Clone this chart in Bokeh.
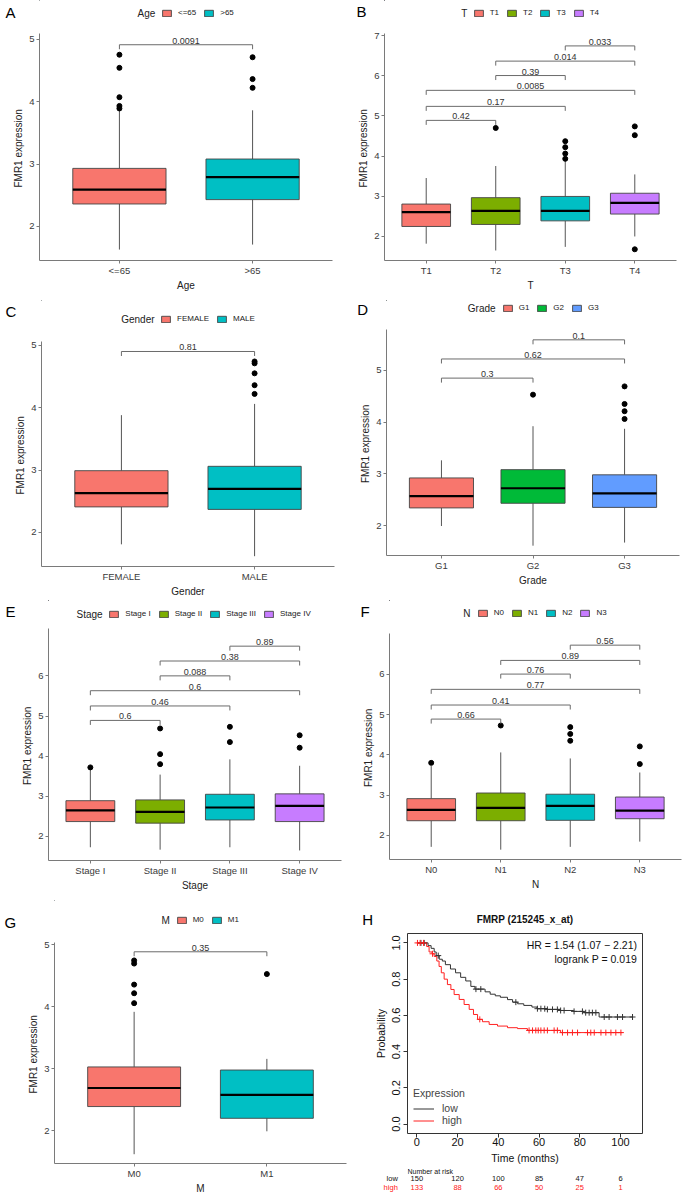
import numpy as np
from bokeh.plotting import figure
from bokeh.models import (Range1d, FixedTicker, Label, Legend, LegendItem,
                          ColumnDataSource, NumeralTickFormatter)
from bokeh.layouts import column, row
from bokeh.embed import file_html
from bokeh.resources import INLINE
from bokeh.core.properties import value

FONT = "Liberation Sans"

# ---------------- data ----------------
# A: Age
age_groups = ["<=65", ">65"]
age_q1 = [2.36, 2.43]
age_median = [2.59, 2.79]
age_q3 = [2.93, 3.08]
age_whisker_low = [1.63, 1.71]
age_whisker_high = [3.85, 3.86]
age_outliers = [[4.75, 4.54, 4.07, 3.93, 3.89], [4.71, 4.36, 4.22]]
age_pairs = [(0, 1)]
age_pvalues = ["0.0091"]
age_bracket_y = [4.91]

# B: T
t_groups = ["T1", "T2", "T3", "T4"]
t_q1 = [2.24, 2.29, 2.38, 2.55]
t_median = [2.60, 2.63, 2.63, 2.83]
t_q3 = [2.80, 2.96, 2.99, 3.07]
t_whisker_low = [1.81, 1.64, 1.73, 1.99]
t_whisker_high = [3.45, 3.75, 3.88, 3.54]
t_outliers = [[], [4.70], [4.37, 4.22, 4.06, 3.93], [4.74, 4.52, 1.67]]
t_pairs = [(0, 1), (0, 2), (0, 3), (1, 2), (1, 3), (2, 3)]
t_pvalues = ["0.42", "0.17", "0.0085", "0.39", "0.014", "0.033"]
t_bracket_y = [4.89, 5.24, 5.64, 6.01, 6.37, 6.75]

# C: Gender
gender_groups = ["FEMALE", "MALE"]
gender_q1 = [2.41, 2.37]
gender_median = [2.63, 2.70]
gender_q3 = [2.99, 3.06]
gender_whisker_low = [1.81, 1.62]
gender_whisker_high = [3.88, 4.06]
gender_outliers = [[], [4.74, 4.71, 4.55, 4.36, 4.22]]
gender_pairs = [(0, 1)]
gender_pvalues = ["0.81"]
gender_bracket_y = [4.90]

# D: Grade
grade_groups = ["G1", "G2", "G3"]
grade_q1 = [2.34, 2.43, 2.35]
grade_median = [2.57, 2.72, 2.62]
grade_q3 = [2.92, 3.08, 2.98]
grade_whisker_low = [1.99, 1.61, 1.67]
grade_whisker_high = [3.26, 3.92, 3.87]
grade_outliers = [[], [4.53], [4.69, 4.35, 4.21, 4.06]]
grade_pairs = [(0, 1), (0, 2), (1, 2)]
grade_pvalues = ["0.3", "0.62", "0.1"]
grade_bracket_y = [4.85, 5.22, 5.59]

# E: Stage
stage_groups = ["Stage I", "Stage II", "Stage III", "Stage IV"]
stage_q1 = [2.37, 2.33, 2.41, 2.37]
stage_median = [2.65, 2.61, 2.72, 2.76]
stage_q3 = [2.89, 2.91, 3.05, 3.06]
stage_whisker_low = [1.73, 1.67, 1.73, 1.65]
stage_whisker_high = [3.66, 3.54, 3.92, 3.76]
stage_outliers = [[3.72], [4.69, 4.05, 3.80], [4.73, 4.35], [4.52, 4.21]]
stage_pairs = [(0, 1), (0, 2), (0, 3), (1, 2), (1, 3), (2, 3)]
stage_pvalues = ["0.6", "0.46", "0.6", "0.088", "0.38", "0.89"]
stage_bracket_y = [4.89, 5.25, 5.63, 6.00, 6.37, 6.74]

# F: N
n_groups = ["N0", "N1", "N2", "N3"]
n_q1 = [2.36, 2.36, 2.37, 2.41]
n_median = [2.63, 2.68, 2.73, 2.61]
n_q3 = [2.91, 3.05, 3.02, 2.95]
n_whisker_low = [1.71, 1.64, 1.71, 1.84]
n_whisker_high = [3.72, 4.06, 3.91, 3.56]
n_outliers = [[3.80], [4.73], [4.69, 4.52, 4.35], [4.21, 3.77]]
n_pairs = [(0, 1), (0, 2), (0, 3), (1, 2), (1, 3), (2, 3)]
n_pvalues = ["0.66", "0.41", "0.77", "0.76", "0.89", "0.56"]
n_bracket_y = [4.89, 5.24, 5.63, 6.01, 6.35, 6.73]

# G: M
m_groups = ["M0", "M1"]
m_q1 = [2.39, 2.20]
m_median = [2.69, 2.58]
m_q3 = [3.03, 2.98]
m_whisker_low = [1.62, 1.99]
m_whisker_high = [3.92, 3.16]
m_outliers = [[4.75, 4.70, 4.36, 4.22, 4.06], [4.53]]
m_pairs = [(0, 1)]
m_pvalues = ["0.35"]
m_bracket_y = [4.89]

# H: Kaplan-Meier (FMRP 215245_x_at)
km_low_time = [0, 5.5, 7, 8.5, 9.5, 11, 12.5, 14, 16.5, 19, 21.5, 24, 26.5, 28.5, 33.5, 36,
               38.5, 41, 44.5, 47, 49.5, 52.5, 56.5, 59, 64, 70.5, 77, 82, 89.5, 106]
km_low_surv = [1.0, 0.985, 0.97, 0.95, 0.93, 0.91, 0.90, 0.88, 0.856, 0.835, 0.81, 0.79, 0.76,
               0.745, 0.73, 0.717, 0.708, 0.70, 0.687, 0.673, 0.664, 0.655, 0.646, 0.637, 0.633,
               0.627, 0.622, 0.615, 0.591, 0.591]
km_high_time = [0, 4.8, 6, 7.5, 8.5, 9.8, 10.9, 12, 13.4, 15, 16.7, 18.3, 20.8, 23.2, 25.7, 27.8,
                29.8, 32.2, 35.5, 39.6, 44.5, 49.4, 54.3, 70.6, 101]
km_high_surv = [1.0, 0.98, 0.95, 0.94, 0.925, 0.90, 0.87, 0.835, 0.80, 0.77, 0.743, 0.715, 0.688,
                0.66, 0.633, 0.605, 0.578, 0.565, 0.55, 0.541, 0.532, 0.527, 0.517, 0.505, 0.505]
km_low_censor = [2.0, 3.6, 10.5, 29, 31.4, 48.6, 59.2, 60.9, 62.8, 64.1, 66.6, 69, 70.6, 72.3, 77.2,
                 81.3, 82.9, 84.6, 86.2, 87.9, 92, 94.4, 98.5, 101, 105.9]
km_high_censor = [0.3, 1.6, 3.3, 7.7, 30.9, 55.1, 56.8, 58.4, 59.6, 60.9, 62.5, 64.1, 67.4, 69,
                  71.5, 74, 76.4, 78.9, 83.8, 85.4, 87.1, 90.4, 92.8, 95.3, 97.7, 100.2]
risk_times = [0, 20, 40, 60, 80, 100]
risk_low = [150, 120, 100, 85, 47, 6]
risk_high = [133, 88, 66, 50, 25, 1]
hr_text = "HR = 1.54 (1.07 \u2212 2.21)"
logrank_text = "logrank P = 0.019"
km_title = "FMRP (215245_x_at)"

PAL2 = ["#F8766D", "#00BFC4"]
PAL3 = ["#F8766D", "#00BA38", "#619CFF"]
PAL4 = ["#F8766D", "#7CAE00", "#00BFC4", "#C77CFF"]

AXIS_COL = "#7a7a7a"


def blank_fig(W, H, xr=None, yr=None, right=0):
    p = figure(width=int(W), height=int(H), x_range=xr or Range1d(100, 101),
               y_range=yr or Range1d(-10, -9),
               min_border_left=0, min_border_right=int(right), min_border_top=0,
               min_border_bottom=0, x_axis_type=None, y_axis_type=None,
               toolbar_location=None, output_backend="svg", outline_line_color=None,
               background_fill_color="white", border_fill_color="white")
    p.grid.visible = False
    return p


def add_label(p, text, x, y, size, align="left", color="#111111", style="normal"):
    p.add_layout(Label(x=x, y=y, x_units="screen", y_units="screen", text=text,
                       text_font=FONT, text_font_size=size, text_baseline="middle",
                       text_align=align, text_color=color, text_font_style=style))


def box_panel(letter, var, groups, q1, med, q3, wlo, whi, outs, pairs, pvals, bry, colors,
              W, H, hh, fl, fr, ft, fb, ylim, yticks, letter_xy, leg_title_x, leg_key_x, leg_cy):
    n = len(groups)
    fl_i, fr_i = int(round(fl)), int(round(fr))
    xs = list(range(1, n + 1))
    src = ColumnDataSource(dict(x=xs, q1=q1, q3=q3, c=colors[:n]))

    # header strip: panel letter (left of frame) + legend (above frame)
    lf = blank_fig(fl_i, hh)
    add_label(lf, letter, letter_xy[0], hh - letter_xy[1], "15px", color="black")
    rf = blank_fig(W - fl_i, hh, right=W - fr_i)
    dummy = rf.vbar(x="x", width=0.7, bottom="q1", top="q3", fill_color="c",
                    line_color="#444444", line_width=0.9, source=src)
    add_label(rf, var, leg_title_x - fl_i, hh - leg_cy, "10px", color="#222222")
    kh = 8
    items = [LegendItem(label=g, renderers=[dummy], index=i) for i, g in enumerate(groups)]
    leg = Legend(items=items, orientation="horizontal",
                 location=(leg_key_x - fl_i, hh - leg_cy - kh / 2),
                 glyph_width=11, glyph_height=kh, label_standoff=6, spacing=7,
                 padding=0, margin=0, label_width=0, label_height=kh,
                 label_text_font=FONT, label_text_font_size="8px", label_text_color="#222222",
                 background_fill_alpha=0, border_line_alpha=0)
    rf.add_layout(leg, "center")

    mh = H - hh
    p = figure(width=W, height=mh, x_range=Range1d(0.4, n + 0.6), y_range=Range1d(*ylim),
               min_border_left=fl_i, min_border_right=W - fr_i,
               min_border_top=int(round(ft - hh)), min_border_bottom=int(round(H - fb)),
               toolbar_location=None, output_backend="svg", outline_line_color=None,
               background_fill_color="white", border_fill_color="white")
    p.grid.visible = False
    p.segment(x0=xs, x1=xs, y0=q3, y1=whi, line_color="#555555", line_width=1)
    p.segment(x0=xs, x1=xs, y0=wlo, y1=q1, line_color="#555555", line_width=1)
    p.vbar(x="x", width=0.7, bottom="q1", top="q3", fill_color="c", line_color="#444444",
           line_width=0.9, source=src)
    p.segment(x0=[x - 0.35 for x in xs], x1=[x + 0.35 for x in xs], y0=med, y1=med,
              line_color="black", line_width=2.2)
    ox, oy = [], []
    for i, o in enumerate(outs):
        ox += [i + 1] * len(o)
        oy += o
    p.scatter(ox, oy, size=5, color="black")
    ppu = (fb - ft) / (ylim[1] - ylim[0])
    tip = 4.5 / ppu
    hx0, hx1, hy, tx, ty0, ty1, lx, ly = [], [], [], [], [], [], [], []
    for (i, j), y in zip(pairs, bry):
        hx0.append(i + 1); hx1.append(j + 1); hy.append(y)
        tx += [i + 1, j + 1]; ty0 += [y, y]; ty1 += [y - tip, y - tip]
        lx.append((i + j) / 2 + 1); ly.append(y)
    p.segment(x0=hx0, x1=hx1, y0=hy, y1=hy, line_color="#6b6b6b", line_width=1)
    p.segment(x0=tx, x1=tx, y0=ty0, y1=ty1, line_color="#6b6b6b", line_width=1)
    p.text(x=lx, y=ly, text=pvals, text_align="center", text_baseline="bottom",
           text_font=value(FONT), text_font_size="9px", text_color="#333333", y_offset=-1)
    p.xaxis.ticker = FixedTicker(ticks=xs)
    p.xaxis.major_label_overrides = {x: g for x, g in zip(xs, groups)}
    p.yaxis.ticker = FixedTicker(ticks=yticks)
    for ax in (p.xaxis, p.yaxis):
        ax.axis_line_color = AXIS_COL
        ax.major_tick_line_color = AXIS_COL
        ax.minor_tick_line_color = None
        ax.major_tick_out = 3
        ax.major_tick_in = 0
        ax.major_label_text_font = FONT
        ax.major_label_text_font_size = "9.5px"
        ax.major_label_text_color = "#3a3a3a"
        ax.axis_label_text_font = FONT
        ax.axis_label_text_font_size = "10px"
        ax.axis_label_text_font_style = "normal"
        ax.axis_label_text_color = "#222222"
    p.xaxis.major_label_standoff = 1
    p.xaxis.axis_label_standoff = 1
    p.yaxis.major_label_standoff = 2
    p.yaxis.axis_label_standoff = 2
    p.xaxis.axis_label = var
    p.yaxis.axis_label = "FMR1  expression"
    return column(row(lf, rf), p)


pA = box_panel("A", "Age", age_groups, age_q1, age_median, age_q3, age_whisker_low,
               age_whisker_high, age_outliers, age_pairs, age_pvalues, age_bracket_y, PAL2,
               340, 300, 25, 39, 332, 33, 260, (1.455, 5.09), [2, 3, 4, 5], (5, 12), 137, 161, 13)
pB = box_panel("B", "T", t_groups, t_q1, t_median, t_q3, t_whisker_low, t_whisker_high,
               t_outliers, t_pairs, t_pvalues, t_bracket_y, PAL4,
               345, 300, 25, 44, 335.5, 33, 260, (1.39, 7.06), [2, 3, 4, 5, 6, 7], (16, 11),
               120.7, 132.7, 13.3)
pC = box_panel("C", "Gender", gender_groups, gender_q1, gender_median, gender_q3,
               gender_whisker_low, gender_whisker_high, gender_outliers, gender_pairs,
               gender_pvalues, gender_bracket_y, PAL2,
               340, 300, 30, 41, 334, 41, 266, (1.455, 5.06), [2, 3, 4, 5], (5, 11.3),
               120.7, 160, 19)
pD = box_panel("D", "Grade", grade_groups, grade_q1, grade_median, grade_q3,
               grade_whisker_low, grade_whisker_high, grade_outliers, grade_pairs,
               grade_pvalues, grade_bracket_y, PAL3,
               345, 300, 21, 46, 339, 29, 255, (1.42, 5.79), [2, 3, 4, 5], (16.7, 9),
               127.3, 161.7, 8.3)
pE = box_panel("E", "Stage", stage_groups, stage_q1, stage_median, stage_q3,
               stage_whisker_low, stage_whisker_high, stage_outliers, stage_pairs,
               stage_pvalues, stage_bracket_y, PAL4,
               342, 300, 20, 48, 341, 28, 260, (1.40, 7.18), [2, 3, 4, 5, 6], (5, 11.3),
               76, 108.3, 14)
pF = box_panel("F", "N", n_groups, n_q1, n_median, n_q3, n_whisker_low, n_whisker_high,
               n_outliers, n_pairs, n_pvalues, n_bracket_y, PAL4,
               343, 300, 25, 47, 339, 33, 259, (1.395, 7.02), [2, 3, 4, 5, 6], (18, 11),
               120.7, 134.7, 13.3)
pG = box_panel("G", "M", m_groups, m_q1, m_median, m_q3, m_whisker_low, m_whisker_high,
               m_outliers, m_pairs, m_pvalues, m_bracket_y, PAL2,
               347, 296, 32, 54, 346, 42, 266, (1.47, 5.04), [2, 3, 4, 5], (4, 21.7),
               161, 175.7, 20)

# ---------------- H: KM plot ----------------
W = 338
HH_TOP, HH_MAIN, HH_FOOT = 30, 237, 29
fl, fr, ft, fb = 60, 295, 33.3, 233.3          # canvas coords of the frame (whole panel)
xr = Range1d(-4.6, 110.8)

hL = blank_fig(fl, HH_TOP)
add_label(hL, "H", 14.7, HH_TOP - 19, "15px", color="black")
hR = blank_fig(W - fl, HH_TOP, right=W - fr)
add_label(hR, km_title, (fr - fl) / 2, HH_TOP - 19, "10px", align="center", style="bold")

pH = figure(width=W, height=HH_MAIN, x_range=xr, y_range=Range1d(-0.052, 1.052),
            min_border_left=fl, min_border_right=W - fr, min_border_top=int(round(ft - HH_TOP)),
            min_border_bottom=int(round(HH_TOP + HH_MAIN - fb)), toolbar_location=None,
            output_backend="svg", background_fill_color="white", border_fill_color="white")
pH.grid.visible = False
pH.outline_line_color = "#333333"
pH.outline_line_width = 1
low_r = pH.step(km_low_time, km_low_surv, mode="after", line_color="#333333", line_width=1)
high_r = pH.step(km_high_time, km_high_surv, mode="after", line_color="#ff2020", line_width=1)
lt, ls = np.array(km_low_time), np.array(km_low_surv)
ht, hs = np.array(km_high_time), np.array(km_high_surv)
lc = np.array(km_low_censor)
hc = np.array(km_high_censor)
pH.scatter(lc, ls[np.searchsorted(lt, lc, side="right") - 1], marker="cross", size=6,
           line_color="#333333", line_width=1)
pH.scatter(hc, hs[np.searchsorted(ht, hc, side="right") - 1], marker="cross", size=6,
           line_color="#ff2020", line_width=1)
pH.xaxis.ticker = FixedTicker(ticks=risk_times)
pH.yaxis.ticker = FixedTicker(ticks=[0, 0.2, 0.4, 0.6, 0.8, 1.0])
pH.yaxis.formatter = NumeralTickFormatter(format="0.0")
pH.yaxis.major_label_orientation = "vertical"
for ax in (pH.xaxis, pH.yaxis):
    ax.axis_line_color = None
    ax.major_tick_line_color = "#333333"
    ax.minor_tick_line_color = None
    ax.major_tick_out = 4
    ax.major_tick_in = 0
    ax.major_label_text_font = FONT
    ax.major_label_text_font_size = "11px"
    ax.major_label_text_color = "#111111"
    ax.axis_label_text_font = FONT
    ax.axis_label_text_font_size = "10.5px"
    ax.axis_label_text_font_style = "normal"
    ax.axis_label_text_color = "#111111"
pH.xaxis.major_label_standoff = 0
pH.xaxis.axis_label_standoff = 3
pH.yaxis.major_label_standoff = 3
pH.yaxis.axis_label_standoff = 3
pH.xaxis.axis_label = "Time (months)"
pH.yaxis.axis_label = "Probability"
add_label(pH, hr_text, 229.5, fb - 45, "10.5px", align="right")
add_label(pH, logrank_text, 229.5, fb - 59, "10.5px", align="right")
kleg = Legend(items=[LegendItem(label="low", renderers=[low_r]),
                     LegendItem(label="high", renderers=[high_r])],
              title="Expression", location=(6, 7), orientation="vertical",
              glyph_width=21, glyph_height=11, label_height=11, label_width=0,
              label_standoff=8, spacing=0, padding=0, margin=0,
              title_text_font=FONT, title_text_font_size="10.5px",
              title_text_font_style="normal", title_standoff=3,
              label_text_font=FONT, label_text_font_size="10.5px",
              background_fill_alpha=0, border_line_alpha=0)
pH.add_layout(kleg, "center")

# footer: number-at-risk table on the plot's own time scale
foot_top = HH_TOP + HH_MAIN
fL = blank_fig(fl, HH_FOOT, xr=Range1d(0, fl), yr=Range1d(HH_FOOT, 0))
fL.text(x=[50.3], y=[277.7 - foot_top], text=["low"], text_font=value(FONT),
        text_font_size="7.5px", text_baseline="middle", text_align="right", text_color="#111111")
fL.text(x=[50.3], y=[286.7 - foot_top], text=["high"], text_font=value(FONT),
        text_font_size="7.5px", text_baseline="middle", text_align="right", text_color="#ff2020")
fR = blank_fig(W - fl, HH_FOOT, xr=xr, yr=Range1d(HH_FOOT, 0), right=W - fr)
fsrc = ColumnDataSource(dict(t=risk_times, lo=[str(v) for v in risk_low],
                             hi=[str(v) for v in risk_high]))
fR.text(x=[xr.start], y=[270.5 - foot_top], text=["Number at risk"], text_font=value(FONT),
        text_font_size="7px", text_baseline="middle", text_align="left", text_color="#111111")
fR.text(x="t", y=277.7 - foot_top, text="lo", source=fsrc, text_font=value(FONT),
        text_font_size="7.5px", text_baseline="middle", text_align="center", text_color="#111111")
fR.text(x="t", y=286.7 - foot_top, text="hi", source=fsrc, text_font=value(FONT),
        text_font_size="7.5px", text_baseline="middle", text_align="center", text_color="#ff2020")

panelH = column(row(hL, hR), pH, row(fL, fR))

layout = column(row(pA, pB), row(pC, pD), row(pE, pF), row(pG, panelH))
open("out.html", "w").write(file_html(layout, INLINE))
